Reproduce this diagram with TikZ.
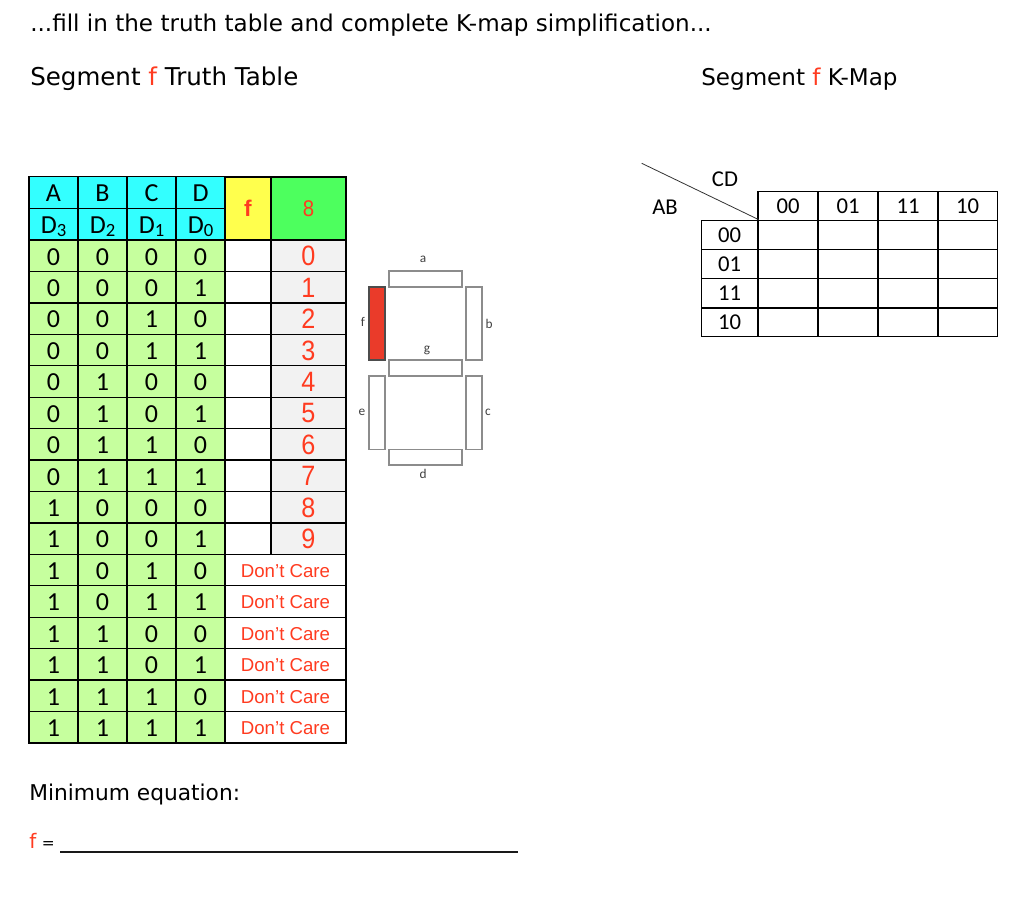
\documentclass[tikz,border=0pt]{standalone}
\usepackage{graphicx}
\usepackage{fontspec}
\setmainfont{Carlito}
\newfontfamily\headfont{DejaVu Sans}
\newfontfamily\armfont{Liberation Sans}
\definecolor{cellcyan}{HTML}{33FFFF}
\definecolor{cellgreen}{HTML}{C6FF9E}
\definecolor{cellyellow}{HTML}{FFFF4D}
\definecolor{headgreen}{HTML}{4DFF5E}
\definecolor{cellgray}{HTML}{F2F2F2}
\definecolor{segred}{HTML}{FF3B20}
\definecolor{segfill}{HTML}{EA3B2A}
\definecolor{seggray}{HTML}{8C8C8C}
\tikzset{
	cell/.style={draw, line width=1pt, inner sep=0pt, minimum height=23.58pt, text height=14pt, text depth=0pt, font=\fontsize{19.5}{21}\selectfont},
	bitcell/.style={cell, fill=cellgreen, minimum width=36.75pt},
	headcell/.style={cell, fill=cellcyan, minimum width=36.75pt},
	fcell/.style={cell, fill=white, minimum width=34.5pt},
	digitcell/.style={cell, fill=cellgray, minimum width=56.25pt, text=segred, text height=15pt},
	carecell/.style={cell, fill=white, minimum width=90.75pt, text=segred, text height=11pt},
	segbar/.style={draw=seggray, line width=0.8pt},
	seglabel/.style={text=black!75, font=\fontsize{10}{12}\selectfont},
	mapcell/.style={draw, line width=0.9pt, inner sep=0pt, minimum width=45pt, minimum height=21.9pt, font=\fontsize{17}{19}\selectfont},
	sidecell/.style={mapcell, minimum width=42.5pt},
	headline/.style={anchor=base west, inner sep=0pt, font=\headfont\fontsize{17.3}{20}\selectfont}
}
\newcommand{\segdigit}[1]{{\armfont\fontsize{21}{24}\selectfont\scalebox{0.9}[1]{#1}}}
\newcommand{\lowdigit}[1]{\raisebox{-0.25ex}{\fontsize{14}{15}\selectfont #1}}
\begin{document}
\begin{tikzpicture}[x=0.75pt, y=-0.75pt]
	\useasboundingbox (0,0) rectangle (1024,909);
	% headings
	\node[headline] (title) at (30,32) {...fill in the truth table and complete K-map simplification...};
	\node[headline, font=\headfont\fontsize{18.4}{20}\selectfont] (ttlabel) at (30,86) {Segment \textcolor{segred}{f} Truth Table};
	\node[headline] (kmlabel) at (701,86) {Segment \textcolor{segred}{f} K-Map};
	% truth table head
	\foreach \n/\x/\t/\s in {a/53.5/A/3,b/102.5/B/2,c/151.5/C/1,d/200.5/D/0} {
		\node[headcell] (top\n) at (\x,192.5) {\t};
		\node[headcell] (sub\n) at (\x,224) {D\lowdigit{\s}};
	}
	\node[cell, fill=cellyellow, minimum width=34.5pt, minimum height=47.25pt, text=segred, text height=12pt, font=\armfont\bfseries\fontsize{17}{19}\selectfont] (fhead) at (248,208.5) {f};
	\node[cell, fill=headgreen, minimum width=56.25pt, minimum height=47.25pt, text=segred, text height=12pt] (dighead) at (308.5,208.5) {{\armfont\fontsize{17}{19}\selectfont\scalebox{0.9}[1]{8}}};
	% truth table rows
	\foreach \r/\a/\b/\c/\d in {0/0/0/0/0,1/0/0/0/1,2/0/0/1/0,3/0/0/1/1,4/0/1/0/0,5/0/1/0/1,6/0/1/1/0,7/0/1/1/1,8/1/0/0/0,9/1/0/0/1,10/1/0/1/0,11/1/0/1/1,12/1/1/0/0,13/1/1/0/1,14/1/1/1/0,15/1/1/1/1} {
		\pgfmathsetmacro{\y}{255.7+31.44*\r}
		\node[bitcell] (a\r) at (53.5,\y) {\a};
		\node[bitcell] (b\r) at (102.5,\y) {\b};
		\node[bitcell] (c\r) at (151.5,\y) {\c};
		\node[bitcell] (d\r) at (200.5,\y) {\d};
	}
	\foreach \r in {0,...,9} {
		\pgfmathsetmacro{\y}{255.7+31.44*\r}
		\node[fcell] (f\r) at (248,\y) {};
		\node[digitcell] (n\r) at (308.5,\y) {\segdigit{\r}};
	}
	\foreach \r in {10,...,15} {
		\pgfmathsetmacro{\y}{255.7+31.44*\r}
		\node[carecell] (n\r) at (285.5,\y) {\armfont\fontsize{14}{16}\selectfont Don’t Care};
	}
	% seven segments
	\foreach \n/\xa/\ya/\xb/\yb in {sa/389/271/462/287,sb/466/287/482/360,sc/466/376/482/449.5,sd/389/449.5/462/465,se/369/376/385/449.5,sg/389/360/462/376} {
		\draw[segbar] (\xa,\ya) rectangle (\xb,\yb);
	}
	\draw[segbar, draw=black!70, fill=segfill] (369,287) rectangle (385,360);
	\foreach \t/\x/\y in {a/423/259,f/363/322,b/489/324,g/427/350,e/362/412,c/488/412,d/423/474} {
		\node[seglabel] (lab\t) at (\x,\y) {\t};
	}
	% k-map
	\node[font=\fontsize{17}{19}\selectfont, inner sep=0pt] (cd) at (725,179) {CD};
	\node[font=\fontsize{17}{19}\selectfont, inner sep=0pt] (ab) at (665,207) {AB};
	\foreach \i/\x/\t in {0/788/00,1/848/01,2/908/11,3/967.5/10} {
		\node[mapcell] (col\i) at (\x,206) {\t};
		\foreach \j/\y in {0/234.8,1/264,2/293.3,3/322} {
			\node[mapcell] (m\i\j) at (\x,\y) {};
		}
	}
	\foreach \j/\y/\t in {0/234.8/00,1/264/01,2/293.3/11,3/322/10} {
		\node[sidecell] (row\j) at (729.7,\y) {\t};
	}
	\coordinate (slashstart) at (641.7,163.3);
	\draw[line width=0.6pt, black!80] (slashstart) -- (row0.north east);
	% equation
	\node[headline, font=\headfont\fontsize{16.3}{20}\selectfont] (minlabel) at (29,800) {Minimum equation:};
	\node[anchor=base west, inner sep=0pt, font=\headfont\fontsize{13}{16}\selectfont] (eqlabel) at (29,848) {\textcolor{segred}{\fontsize{15}{16}\selectfont f} {\fontsize{11.5}{16}\selectfont =}};
	\coordinate (blankstart) at (60,852);
	\coordinate (blankend) at (518,852);
	\draw[line width=0.8pt, black!90] (blankstart) -- (blankend);
\end{tikzpicture}
\end{document}
